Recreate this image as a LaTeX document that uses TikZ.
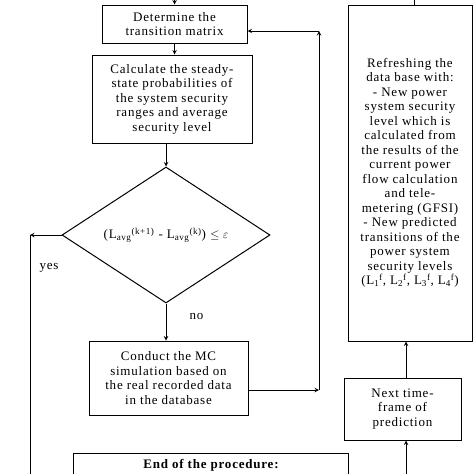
\documentclass[tikz,border=0pt]{standalone}
\usepackage{fontspec}
\newfontfamily\boxfont{Liberation Serif}[LetterSpace=6]
\usetikzlibrary{positioning,arrows,calc,shapes.geometric}

\begin{document}
\begin{tikzpicture}[
  x=1pt, y=-1pt,
  >=stealth,
  line width=1pt,
  font=\boxfont\fontsize{13}{14.5}\selectfont,
  box/.style   = {draw, rectangle, align=center, inner sep=2pt},
  test/.style  = {draw, diamond, aspect=1.53, minimum width=208pt,
                  minimum height=136pt, inner sep=0pt},
  flow/.style  = {->},
  lbl/.style   = {inner sep=1pt},
]
\useasboundingbox (0,0) rectangle (474,474);
\clip (0,0) rectangle (474,474);

% Main loop: matrix, probabilities, convergence test, MC simulation
\node[box, minimum width=145pt, minimum height=38pt] (det) at (174.5,24)
  {Determine the\\transition matrix};
\node[box, minimum width=160pt, minimum height=88pt] (calc) at (172,99)
  {Calculate the steady-\\state probabilities of\\the system security\\ranges and average\\security level};
\node[test] (dec) at (166,235)
  {(L\textsubscript{avg}\textsuperscript{(k+1)} - L\textsubscript{avg}\textsuperscript{(k)}) $\leq\varepsilon$};
\node[box, minimum width=159pt, minimum height=74pt] (mc) at (168.5,378)
  {Conduct the MC\\simulation based on\\the real recorded data\\in the database};
\node[box, anchor=north west, minimum width=275pt, text height=13pt,
      text depth=30pt, font=\boxfont\fontsize{13}{14.5}\selectfont\bfseries] (end) at (73,453)
  {End of the procedure:};

% Right column: data base refresh, next time-frame
\node[box, minimum width=124pt, minimum height=336pt] (ref) at (410,173)
  {Refreshing the\\data base with:\\- New power\\system security\\level which is\\calculated from\\the results of the\\current power\\flow calculation\\and tele-\\metering (GFSI)\\- New predicted\\transitions of the\\power system\\security levels\\(L\textsubscript{1}\textsuperscript{f}, L\textsubscript{2}\textsuperscript{f}, L\textsubscript{3}\textsuperscript{f}, L\textsubscript{4}\textsuperscript{f})};
\node[box, minimum width=117pt, minimum height=62pt] (nx) at (402.5,409)
  {Next time-\\frame of\\prediction};

% Free ends and corners
\coordinate (tin) at (160,-10);
\coordinate (fbb) at (319,390);
\coordinate (fbt) at (319,31);
\coordinate (yc)  at (30,235);
\coordinate (yb)  at (30,490);
\coordinate (rt)  at (414,-10);
\coordinate (nb)  at (406,490);

% Connectors
\draw[flow] (tin -| det.north) -- (det.north);
\draw[flow] (det.south) -- (det.south |- calc.north);
\draw[flow] (dec.north |- calc.south) -- (dec.north);
\draw[flow] (dec.south) -- node[lbl, right=22pt, pos=0.35] {no} (dec.south |- mc.north);
\draw[flow] (mc.east |- fbb) -- (fbb);
\draw[flow] (fbb) -- (fbt);
\draw[flow] (fbt) -- (fbt -| det.east);
\draw[flow] (dec.west) -- (yc);
\draw (yc) -- node[lbl, right=8pt, pos=0.13] {yes} (yb);
\draw (rt) -- (rt |- ref.north);
\draw[flow] (nb) -- (nb |- nx.south);
\draw[flow] (nb |- nx.north) -- (nb |- ref.south);
\end{tikzpicture}
\end{document}
